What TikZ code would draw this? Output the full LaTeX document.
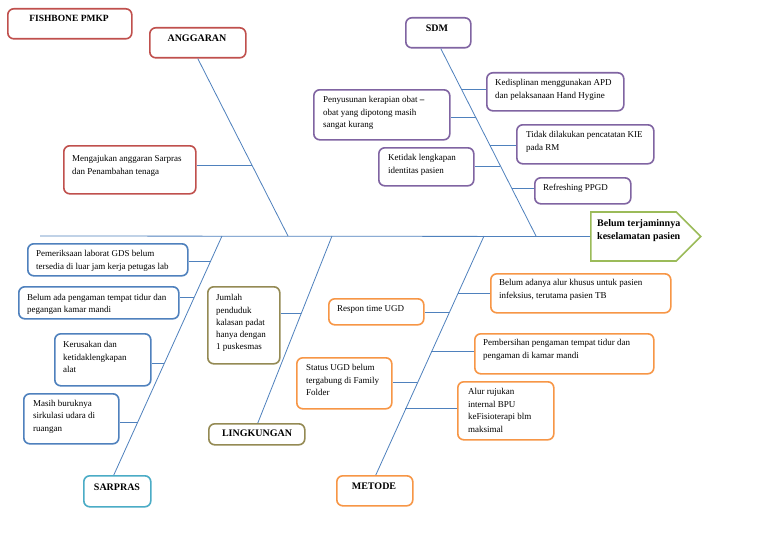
\documentclass[tikz,border=0pt]{standalone}
\usepackage{fontspec}
\setmainfont{Liberation Serif}
\usetikzlibrary{shapes.symbols}
\definecolor{cred}{RGB}{192,80,77}
\definecolor{cpur}{RGB}{128,100,162}
\definecolor{cblu}{RGB}{79,129,189}
\definecolor{cteal}{RGB}{75,172,198}
\definecolor{colive}{RGB}{148,138,84}
\definecolor{corg}{RGB}{247,150,70}
\definecolor{cgrn}{RGB}{155,187,89}
\definecolor{cline}{RGB}{79,129,189}
\begin{document}
\begin{tikzpicture}[x=1pt,y=-1pt,
 bx/.style n args={2}{draw, line width=1.6pt, rounded corners=6pt, inner sep=0pt, anchor=north west, minimum width=#1pt, minimum height=#2pt},
 tx/.style={font=\fontsize{9}{12.5}\selectfont, align=left, inner sep=0pt, anchor=north west},
 ttl/.style={font=\fontsize{10}{12}\selectfont\bfseries, inner sep=0pt},
 bone/.style={draw=cline, line width=0.8pt},
]
\fill[white] (0,0) rectangle (768,543);
\useasboundingbox (0,0) rectangle (768,543);

% category boxes
\node[bx={124}{30},draw=cred] (fb) at (7,8) {};
\node[ttl,font=\fontsize{9.5}{12}\selectfont\bfseries] (fbt) at (69,18) {FISHBONE PMKP};
\node[bx={96}{30},draw=cred] (ang) at (149,27) {};
\node[ttl] (angt) at (197,38) {ANGGARAN};
\node[bx={65}{30},draw=cpur] (sdm) at (405,17) {};
\node[ttl] (sdmt) at (437,28) {SDM};
\node[bx={67}{31},draw=cteal] (sar) at (83,475) {};
\node[ttl] (sart) at (117,487) {SARPRAS};
\node[bx={96}{21},draw=colive] (lin) at (208,423) {};
\node[ttl] (lint) at (257,433) {LINGKUNGAN};
\node[bx={76}{30},draw=corg] (met) at (336,475) {};
\node[ttl] (mett) at (374,486) {METODE};

% head
\node[draw=cgrn, line width=1.6pt, signal, signal to=east, signal pointer angle=90,
  minimum width=110pt, minimum height=49pt, inner sep=0pt, anchor=west] (head) at (590,236.5) {};
\node[font=\fontsize{10}{13}\selectfont\bfseries, align=left, inner sep=0pt, anchor=north west] (headt) at (597,219.5) {Belum terjaminnya\\keselamatan pasien};

% spine and bones
\coordinate (tail) at (40,236);
\draw[bone] (tail) -- (head.west);
\coordinate (angB) at (288,236);
\coordinate (sdmB) at (536,236);
\coordinate (sarB) at (222,236);
\coordinate (linB) at (332,236);
\coordinate (metB) at (484,236);
\draw[bone] (ang.south) -- (angB);
\draw[bone] ([xshift=2.5pt]sdm.south) -- (sdmB);
\draw[bone] ([xshift=-3.5pt]sar.north) -- (sarB);
\draw[bone] ([xshift=1pt]lin.north) -- (linB);
\draw[bone] ([xshift=1pt]met.north) -- (metB);

% cause boxes
\node[bx={132}{48},draw=cred] (mg) at (63,145) {};
\node[tx] (mgt) at (72,155.5) {Mengajukan anggaran Sarpras\\dan Penambahan tenaga};

\node[bx={137}{38},draw=cpur] (kd) at (486,72) {};
\node[tx] (kdt) at (495,79.5) {Kedisplinan menggunakan APD\\dan pelaksanaan Hand Hygine};
\node[bx={136}{50},draw=cpur] (py) at (313,89) {};
\node[tx] (pyt) at (323,96.5) {Penyusunan kerapian obat \textbf{--}\\obat yang dipotong masih\\sangat kurang};
\node[bx={137}{39},draw=cpur] (td) at (516,124) {};
\node[tx] (tdt) at (526,131.5) {Tidak dilakukan pencatatan KIE\\pada RM};
\node[bx={95}{38},draw=cpur] (kt) at (378,147) {};
\node[tx] (ktt) at (388,154.5) {Ketidak lengkapan\\identitas pasien};
\node[bx={96}{26},draw=cpur] (rf) at (534,177) {};
\node[tx] (rft) at (543,183.5) {Refreshing PPGD};

\node[bx={160}{32},draw=cblu] (pm) at (27,243) {};
\node[tx] (pmt) at (36,250.5) {Pemeriksaan laborat GDS belum\\tersedia di luar jam kerja petugas lab};
\node[bx={160}{32},draw=cblu] (ba) at (18,286) {};
\node[tx] (bat) at (27,294) {Belum ada pengaman tempat tidur dan\\pegangan kamar mandi};
\node[bx={96}{52},draw=cblu] (kr) at (54,333) {};
\node[tx] (krt) at (63,341.5) {Kerusakan dan\\ketidaklengkapan\\alat};
\node[bx={95}{50},draw=cblu] (ms) at (23,393) {};
\node[tx] (mst) at (33,400) {Masih buruknya\\sirkulasi udara di\\ruangan};

\node[bx={72}{77},draw=colive] (jm) at (207,286) {};
\node[tx,font=\fontsize{9}{12.25}\selectfont] (jmt) at (216,294.5) {Jumlah\\penduduk\\kalasan padat\\hanya dengan\\1 puskesmas};

\node[bx={180}{39},draw=corg] (bd) at (490,273) {};
\node[tx] (bdt) at (499,279.5) {Belum adanya alur khusus untuk pasien\\infeksius, terutama pasien TB};
\node[bx={95}{26},draw=corg] (rs) at (328,298) {};
\node[tx] (rst) at (337,305.5) {Respon time UGD};
\node[bx={179}{40},draw=corg] (pb) at (474,333) {};
\node[tx] (pbt) at (483,339.5) {Pembersihan pengaman tempat tidur dan\\pengaman di kamar mandi};
\node[bx={95}{51},draw=corg] (st) at (296,357) {};
\node[tx] (stt) at (306,364.5) {Status UGD belum\\tergabung di Family\\Folder};
\node[bx={96}{58},draw=corg] (al) at (457,381) {};
\node[tx] (alt) at (468,388.5) {Alur rujukan\\internal BPU\\keFisioterapi blm\\maksimal};

% branch points
\coordinate (a1) at (252,165);
\coordinate (s1) at (461,89);
\coordinate (s2) at (476,117);
\coordinate (s3) at (490,145);
\coordinate (s4) at (500,166);
\coordinate (s5) at (512,188);
\coordinate (p1) at (211,261);
\coordinate (p2) at (194,297);
\coordinate (p3) at (164,363);
\coordinate (p4) at (137,422);
\coordinate (l1) at (301,313);
\coordinate (m1) at (458,293);
\coordinate (m2) at (449,312);
\coordinate (m3) at (431,351);
\coordinate (m4) at (417,382);
\coordinate (m5) at (405,408);

\draw[bone] (a1) -- (a1 -| mg.east);
\draw[bone] (s1) -- (s1 -| kd.west);
\draw[bone] (s2) -- (s2 -| py.east);
\draw[bone] (s3) -- (s3 -| td.west);
\draw[bone] (s4) -- (s4 -| kt.east);
\draw[bone] (s5) -- (s5 -| rf.west);
\draw[bone] (p1) -- (p1 -| pm.east);
\draw[bone] (p2) -- (p2 -| ba.east);
\draw[bone] (p3) -- (p3 -| kr.east);
\draw[bone] (p4) -- (p4 -| ms.east);
\draw[bone] (l1) -- (l1 -| jm.east);
\draw[bone] (m1) -- (m1 -| bd.west);
\draw[bone] (m2) -- (m2 -| rs.east);
\draw[bone] (m3) -- (m3 -| pb.west);
\draw[bone] (m4) -- (m4 -| st.east);
\draw[bone] (m5) -- (m5 -| al.west);
\end{tikzpicture}
\end{document}
